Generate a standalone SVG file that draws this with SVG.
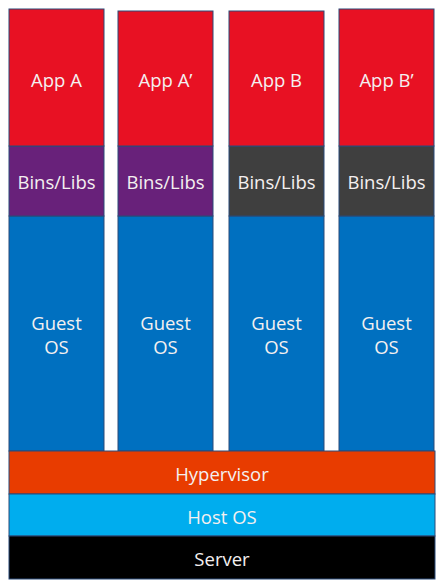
<svg xmlns="http://www.w3.org/2000/svg" width="442" height="587" viewBox="0 0 442 587">
<style>
.b{stroke:#2b4a78;stroke-width:1}
.app{fill:#e81123}
.pur{fill:#68217a}
.gry{fill:#3f3f3f}
.os{fill:#0070c0}
.t{font-family:"Open Sans","Noto Sans",sans-serif;font-size:18.5px;fill:#f4f0f0;text-anchor:middle}
</style>
<rect width="442" height="587" fill="#ffffff"/>
<g id="colA">
<rect class="os b" x="9" y="216" width="95" height="235"/>
<rect class="pur b" x="9" y="146" width="95" height="70"/>
<rect class="app b" x="9" y="9" width="95" height="137"/>
<text class="t" x="56.5" y="87">App A</text>
<text class="t" x="56.5" y="189">Bins/Libs</text>
<text class="t" x="56.5" y="330">Guest</text>
<text class="t" x="56.5" y="354">OS</text>
</g>
<g id="colA2">
<rect class="os b" x="118" y="216" width="95" height="235"/>
<rect class="pur b" x="118" y="146" width="95" height="70"/>
<rect class="app b" x="118" y="11" width="95" height="135"/>
<text class="t" x="165.5" y="87">App A’</text>
<text class="t" x="165.5" y="189">Bins/Libs</text>
<text class="t" x="165.5" y="330">Guest</text>
<text class="t" x="165.5" y="354">OS</text>
</g>
<g id="colB">
<rect class="os b" x="229" y="216" width="95" height="235"/>
<rect class="gry b" x="229" y="146" width="95" height="70"/>
<rect class="app b" x="229" y="11" width="95" height="135"/>
<text class="t" x="276.5" y="87">App B</text>
<text class="t" x="276.5" y="189">Bins/Libs</text>
<text class="t" x="276.5" y="330">Guest</text>
<text class="t" x="276.5" y="354">OS</text>
</g>
<g id="colB2">
<rect class="os b" x="339" y="216" width="95" height="235"/>
<rect class="gry b" x="339" y="146" width="95" height="70"/>
<rect class="app b" x="339" y="9" width="95" height="137"/>
<text class="t" x="386.5" y="87">App B’</text>
<text class="t" x="386.5" y="189">Bins/Libs</text>
<text class="t" x="386.5" y="330">Guest</text>
<text class="t" x="386.5" y="354">OS</text>
</g>
<g id="hypervisor">
<rect class="b" x="9" y="451" width="426" height="43" fill="#e83c00"/>
<text class="t" x="222" y="481">Hypervisor</text>
</g>
<g id="hostos">
<rect class="b" x="9" y="494" width="426" height="42" fill="#00adee"/>
<text class="t" x="222" y="524">Host OS</text>
</g>
<g id="server">
<rect class="b" x="9" y="536" width="426" height="43" fill="#000000"/>
<text class="t" x="222" y="566">Server</text>
</g>
<g id="connectors"/>
</svg>
